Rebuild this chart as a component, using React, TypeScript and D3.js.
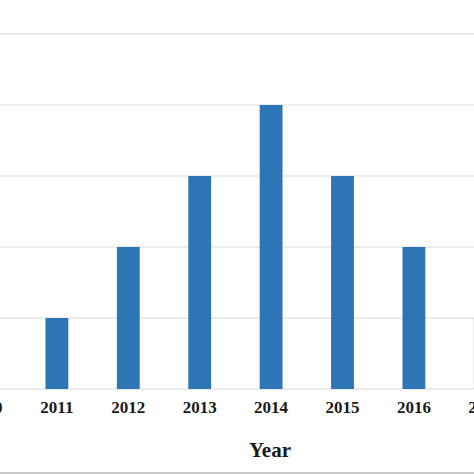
import { useEffect, useRef } from "react";
import * as d3 from "d3";

const years = ["2010", "2011", "2012", "2013", "2014", "2015", "2016", "2017"];
const counts = [0, 1, 2, 3, 4, 3, 2, 1];
const yTicks = [0, 1, 2, 3, 4, 5];

export default function App() {
  const ref = useRef<SVGSVGElement | null>(null);

  useEffect(() => {
    const node = ref.current;
    if (!node) return;

    const width = 474;
    const height = 474;
    const baseline = 389;
    const top = 34;

    const svg = d3.select(node);
    svg.selectAll("*").remove();

    svg.append("rect").attr("width", width).attr("height", height).attr("fill", "#ffffff");

    // the plot is cropped on both sides, so the band range runs past the edges
    const x = d3
      .scaleBand<string>()
      .domain(years)
      .range([-50.2, 521])
      .paddingInner(0.68)
      .paddingOuter(0.34);

    const y = d3.scaleLinear().domain([0, 5]).range([baseline, top]);

    svg
      .append("g")
      .selectAll("line")
      .data(yTicks)
      .join("line")
      .attr("x1", 0)
      .attr("x2", width)
      .attr("y1", (value) => y(value))
      .attr("y2", (value) => y(value))
      .attr("stroke", "#d9d9d9")
      .attr("stroke-width", 1.2);

    svg
      .append("g")
      .selectAll("rect")
      .data(years.map((year, i) => ({ year, value: counts[i] })))
      .join("rect")
      .attr("x", (datum) => x(datum.year) ?? 0)
      .attr("y", (datum) => y(datum.value))
      .attr("width", x.bandwidth())
      .attr("height", (datum) => y(0) - y(datum.value))
      .attr("fill", "#2e75b6");

    const xAxis = d3.axisBottom(x).tickSize(0).tickPadding(12);

    svg
      .append("g")
      .attr("transform", `translate(0,${baseline})`)
      .call(xAxis)
      .call((axis) => {
        axis.select(".domain").remove();
        axis
          .selectAll("text")
          .attr("fill", "#1a1a1a")
          .attr("font-size", 17)
          .attr("font-weight", "bold")
          .attr("font-family", "'Liberation Serif', 'Times New Roman', serif");
      });

    svg
      .append("text")
      .attr("x", 270)
      .attr("y", 457)
      .attr("text-anchor", "middle")
      .attr("font-size", 21)
      .attr("font-weight", "bold")
      .attr("font-family", "'Liberation Serif', 'Times New Roman', serif")
      .attr("fill", "#1a1a1a")
      .text("Year");

    svg.append("rect").attr("x", 0).attr("y", 472).attr("width", width).attr("height", 2).attr("fill", "#c8c8c8");
  }, []);

  return (
    <svg
      ref={ref}
      width={474}
      height={474}
      style={{ position: "absolute", left: 0, top: 0, display: "block" }}
    />
  );
}
